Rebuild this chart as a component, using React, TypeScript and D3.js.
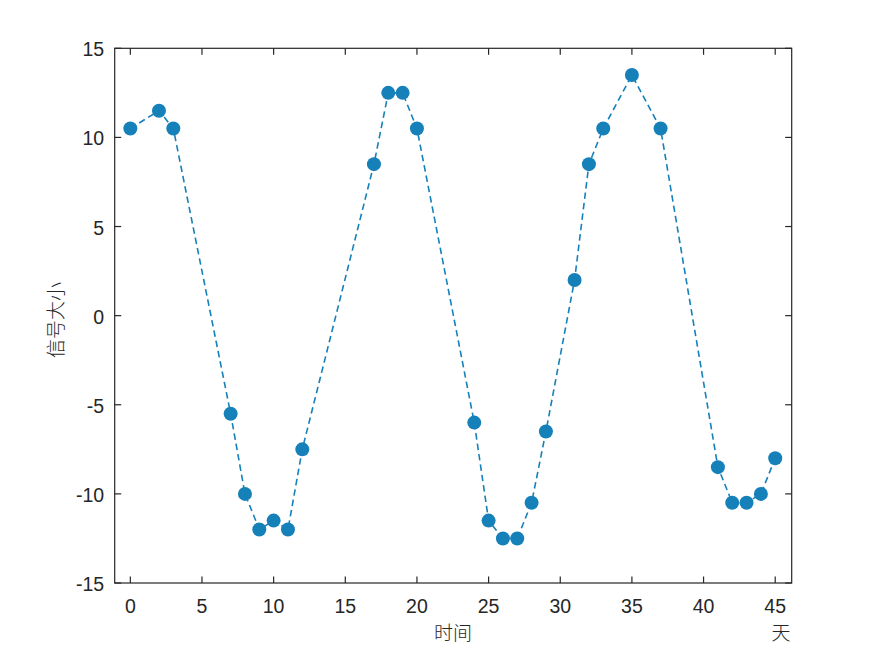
import React from "react";
import * as d3 from "d3";

const days = [0, 2, 3, 7, 8, 9, 10, 11, 12, 17, 18, 19, 20, 24, 25, 26, 27, 28, 29, 31, 32, 33, 35, 37, 41, 42, 43, 44, 45];
const signal = [10.5, 11.5, 10.5, -5.5, -10, -12, -11.5, -12, -7.5, 8.5, 12.5, 12.5, 10.5, -6, -11.5, -12.5, -12.5, -10.5, -6.5, 2, 8.5, 10.5, 13.5, 10.5, -8.5, -10.5, -10.5, -10, -8];
const xTicks = [0, 5, 10, 15, 20, 25, 30, 35, 40, 45];
const yTicks = [-15, -10, -5, 0, 5, 10, 15];

const W = 875, H = 656;
const L = 114.7, R = 791.7, T = 48.3, B = 583;

export default function App() {
  const x = d3.scaleLinear().domain([-1.09, 46.15]).range([L, R]);
  const y = d3.scaleLinear().domain([-15, 15]).range([B, T]);
  const line = d3.line<number>().x((_, i) => x(days[i])).y((d) => y(d));
  const color = "#1680B9";
  const axisColor = "#262626";
  const tl = 6.5;
  const font = "'Liberation Sans', Arial, sans-serif";
  const cjk = "'Noto Sans CJK SC', sans-serif";
  return (
    <svg width={W} height={H} style={{ display: "block", position: "absolute", left: 0, top: 0 }}>
      <rect width={W} height={H} fill="#fff" />
      <path d={line(signal) || ""} fill="none" stroke={color} strokeWidth={1.6} strokeDasharray="6.5,4" />
      {signal.map((v, i) => (
        <circle key={i} cx={x(days[i])} cy={y(v)} r={7} fill={color} />
      ))}
      <rect x={L} y={T} width={R - L} height={B - T} fill="none" stroke={axisColor} strokeWidth={1.2} />
      {xTicks.map((t) => (
        <g key={"x" + t}>
          <line x1={x(t)} x2={x(t)} y1={B} y2={B - tl} stroke={axisColor} strokeWidth={1.2} />
          <line x1={x(t)} x2={x(t)} y1={T} y2={T + tl} stroke={axisColor} strokeWidth={1.2} />
          <text x={x(t)} y={613} fontSize={19.5} fontFamily={font} fill={axisColor} textAnchor="middle">{t}</text>
        </g>
      ))}
      {yTicks.map((t) => (
        <g key={"y" + t}>
          <line x1={L} x2={L + tl} y1={y(t)} y2={y(t)} stroke={axisColor} strokeWidth={1.2} />
          <line x1={R} x2={R - tl} y1={y(t)} y2={y(t)} stroke={axisColor} strokeWidth={1.2} />
          <text x={L - 10.5} y={y(t) + 8} fontSize={19.5} fontFamily={font} fill={axisColor} textAnchor="end">{t}</text>
        </g>
      ))}
      <text x={453} y={640} fontSize={19} fontWeight={300} fontFamily={cjk} fill={axisColor} textAnchor="middle">时间</text>
      <text x={781} y={640} fontSize={19} fontWeight={300} fontFamily={cjk} fill={axisColor} textAnchor="middle">天</text>
      <text transform={`translate(63,320) rotate(-90)`} fontSize={19} fontWeight={300} fontFamily={cjk} fill={axisColor} textAnchor="middle">信号大小</text>
    </svg>
  );
}
